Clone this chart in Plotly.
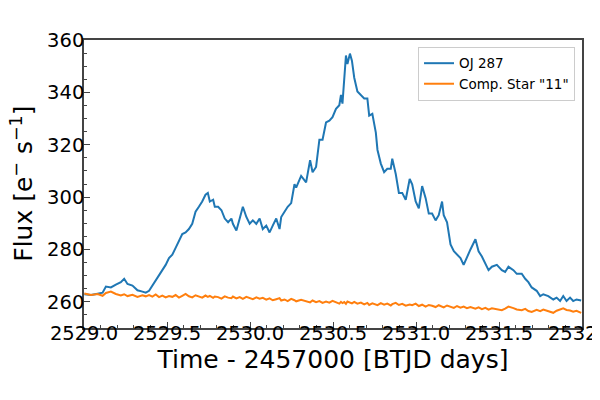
import plotly.graph_objects as go

# Light curves (BTJD - 2457000)
time = [
    2529.002, 2529.042, 2529.082, 2529.112, 2529.132, 2529.162, 2529.192, 2529.222, 2529.242, 2529.262,
    2529.292, 2529.322, 2529.352, 2529.372, 2529.392, 2529.412, 2529.432, 2529.452, 2529.472, 2529.492,
    2529.512, 2529.532, 2529.552, 2529.572, 2529.592, 2529.612, 2529.632, 2529.652, 2529.672, 2529.692,
    2529.712, 2529.732, 2529.746, 2529.758, 2529.778, 2529.788, 2529.808, 2529.828, 2529.848, 2529.868,
    2529.888, 2529.897, 2529.918, 2529.938, 2529.957, 2529.978, 2529.998, 2530.017, 2530.038, 2530.058,
    2530.077, 2530.098, 2530.118, 2530.137, 2530.158, 2530.178, 2530.188, 2530.208, 2530.227, 2530.248,
    2530.268, 2530.278, 2530.308, 2530.338, 2530.362, 2530.377, 2530.398, 2530.418, 2530.437, 2530.458,
    2530.478, 2530.497, 2530.518, 2530.538, 2530.548, 2530.557, 2530.568, 2530.578, 2530.587, 2530.602,
    2530.614, 2530.628, 2530.647, 2530.668, 2530.688, 2530.707, 2530.718, 2530.737, 2530.758, 2530.768,
    2530.788, 2530.808, 2530.827, 2530.848, 2530.857, 2530.878, 2530.897, 2530.917, 2530.938, 2530.962,
    2530.977, 2530.998, 2531.017, 2531.037, 2531.058, 2531.077, 2531.097, 2531.118, 2531.137, 2531.157,
    2531.167, 2531.187, 2531.208, 2531.228, 2531.247, 2531.268, 2531.287, 2531.307, 2531.328, 2531.358,
    2531.377, 2531.397, 2531.418, 2531.437, 2531.457, 2531.487, 2531.517, 2531.537, 2531.557, 2531.587,
    2531.607, 2531.637, 2531.658, 2531.677, 2531.697, 2531.727, 2531.748, 2531.767, 2531.797, 2531.827,
    2531.847, 2531.868, 2531.887, 2531.907, 2531.928, 2531.947, 2531.967, 2531.995,
]

flux_oj287 = [
    262.9, 262.6, 263.1, 263.5, 265.8, 265.5, 266.6, 267.5, 268.8, 266.8,
    266.2, 264.4, 263.9, 263.5, 264.2, 266.2, 268.1, 270.1, 272.1, 274.1,
    276.7, 278.0, 280.6, 283.2, 285.9, 286.5, 287.8, 289.8, 294.4, 296.3,
    298.3, 300.9, 301.6, 298.3, 299.0, 296.3, 296.3, 295.0, 291.8, 290.4,
    291.8, 289.8, 287.2, 291.8, 296.3, 292.4, 289.8, 291.1, 289.8, 291.8,
    287.8, 289.1, 286.5, 289.1, 291.8, 287.8, 292.4, 294.4, 296.3, 297.7,
    304.9, 303.6, 308.1, 305.6, 314.1, 309.5, 311.5, 321.9, 321.9, 328.5,
    329.2, 330.5, 333.7, 335.1, 339.0, 335.7, 345.6, 354.1, 350.8, 354.8,
    352.1, 345.6, 340.3, 339.0, 337.7, 337.7, 331.1, 331.8, 324.6, 318.0,
    312.8, 309.5, 310.8, 310.8, 314.7, 308.8, 301.6, 301.6, 299.0, 306.9,
    304.9, 298.3, 295.7, 304.2, 299.6, 293.7, 293.7, 291.1, 293.1, 298.3,
    293.1, 290.4, 281.9, 279.3, 278.0, 276.7, 274.1, 277.3, 280.0, 283.9,
    279.3, 277.3, 274.7, 272.1, 273.4, 274.1, 272.1, 271.4, 273.4, 272.1,
    270.7, 270.7, 268.8, 267.5, 265.5, 264.2, 262.2, 262.9, 262.2, 260.9,
    261.6, 260.3, 262.2, 260.3, 261.6, 260.3, 260.9, 260.5,
]

flux_comp11 = [
    263.2, 262.6, 263.0, 262.3, 263.4, 263.9, 263.0, 262.4, 262.9, 262.2,
    262.7, 261.9, 262.5, 262.1, 262.6, 262.0, 262.8, 261.8, 262.4, 261.7,
    262.2, 261.9, 262.6, 261.6, 262.3, 263.0, 262.1, 261.7, 262.5, 262.0,
    261.6, 262.4, 261.9, 262.3, 261.5, 262.0, 261.8, 261.2, 262.1, 261.6,
    261.4, 262.0, 261.3, 261.8, 261.1, 261.9, 261.4, 261.0, 261.7, 261.2,
    261.5, 260.8, 261.3, 260.6, 261.0, 261.4, 260.5, 260.9, 260.3, 261.1,
    260.6, 260.2, 260.8, 260.4, 259.8, 260.5, 259.9, 260.3, 259.6, 260.1,
    259.7, 260.4, 259.8, 259.3, 260.0, 259.5, 259.9, 259.2, 260.1, 259.6,
    259.4, 260.0, 259.3, 259.7, 259.0, 259.6, 258.8, 259.4, 259.1, 258.7,
    259.5, 258.9, 259.3, 258.6, 259.1, 259.6, 258.8, 259.2, 258.5, 259.0,
    258.7, 259.3, 258.4, 258.9, 258.2, 258.8, 258.5, 258.0, 258.7, 258.3,
    257.9, 258.6, 258.1, 257.7, 258.4, 257.8, 258.2, 257.6, 258.0, 257.4,
    257.9, 257.2, 257.7, 257.0, 257.5, 257.2, 256.8, 257.4, 258.2, 257.6,
    257.1, 256.8, 257.3, 256.5, 256.1, 256.9, 256.4, 257.0, 256.3, 255.8,
    256.6, 257.2, 257.5, 256.9, 256.7, 256.2, 256.6, 255.8,
]

x_ticks = [2529.0, 2529.5, 2530.0, 2530.5, 2531.0, 2531.5, 2532.0]
y_ticks = [260, 280, 300, 320, 340, 360]

font = "DejaVu Sans"

fig = go.Figure()
fig.add_trace(go.Scatter(x=time, y=flux_oj287, mode="lines", name="OJ 287",
                         line=dict(color="#1f77b4", width=2)))
fig.add_trace(go.Scatter(x=time, y=flux_comp11, mode="lines", name='Comp. Star "11"',
                         line=dict(color="#ff7f0e", width=2)))

axis_common = dict(
    showline=True, linecolor="#444444", linewidth=1.6, mirror=True,
    ticks="inside", ticklen=6, tickwidth=1.3, tickcolor="#444444",
    showgrid=False, zeroline=False,
    tickfont=dict(family=font, size=19.5, color="black"),
    ticklabeloverflow="allow",
)

fig.update_xaxes(
    range=[2529.0, 2532.0],
    tickvals=x_ticks, ticktext=[f"{v:.1f}" for v in x_ticks],
    ticklabelstandoff=-13,
    minor=dict(ticks="inside", dtick=0.1, tick0=2529.0, ticklen=3, tickwidth=1, tickcolor="#444444"),
    title=dict(text="Time - 2457000 [BTJD days]", font=dict(family=font, size=25, color="black"), standoff=2),
    **axis_common,
)
fig.update_yaxes(
    range=[250, 360],
    tickvals=y_ticks,
    ticklabelstandoff=-6,
    minor=dict(ticks="inside", dtick=5, tick0=250, ticklen=3, tickwidth=1, tickcolor="#444444"),
    **axis_common,
)

# y title as an annotation so it is not clamped inside the margin
fig.add_annotation(
    text="Flux [e<sup>−</sup> s<sup>−1</sup>]", textangle=-90,
    xref="paper", yref="paper", x=-0.125, y=0.5, xanchor="center", yanchor="middle",
    showarrow=False, font=dict(family=font, size=25, color="black"),
)

# page body adds an 8px offset, so the figure is 8px smaller than the window
fig.update_layout(
    width=592, height=392,
    margin=dict(l=76, r=18, t=32, b=72, autoexpand=False),
    plot_bgcolor="white", paper_bgcolor="white",
    font=dict(family=font),
    legend=dict(
        x=0.986, y=0.976, xanchor="right", yanchor="top",
        bgcolor="rgba(255,255,255,0.8)", bordercolor="#cccccc", borderwidth=1,
        font=dict(family=font, size=13.5, color="black"),
        tracegroupgap=0, itemwidth=30,
    ),
)

fig.write_html("out.html")
